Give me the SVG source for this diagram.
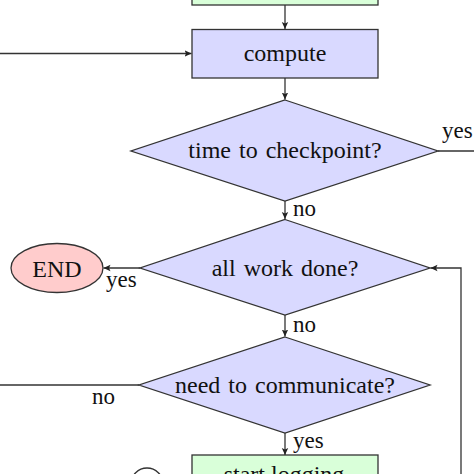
<svg xmlns="http://www.w3.org/2000/svg" width="474" height="474" viewBox="0 0 474 474">
<defs>
<marker id="ah" markerWidth="8" markerHeight="8" refX="7" refY="4" orient="auto" markerUnits="userSpaceOnUse">
<path d="M0,0.8 L7,4 L0,7.2 L1.5,4 Z" fill="#222"/>
</marker>
</defs>
<style>
.box{stroke:#333;stroke-width:1.3}
.blue{fill:#d9d9ff}
.green{fill:#d9ffd9}
.red{fill:#ffcccc}
.t{font-family:"Liberation Serif","Times New Roman",serif;font-size:24px;fill:#111;text-anchor:middle}
.l{font-family:"Liberation Serif","Times New Roman",serif;font-size:23px;fill:#111}
.c{fill:none;stroke:#333;stroke-width:1.3}
</style>
<rect width="474" height="474" fill="#fff"/>
<g id="connectors">
<line class="c" x1="285" y1="5" x2="285" y2="29" marker-end="url(#ah)"/>
<line class="c" x1="0" y1="53.5" x2="191.5" y2="53.5" marker-end="url(#ah)"/>
<line class="c" x1="285" y1="78" x2="285" y2="99.5" marker-end="url(#ah)"/>
<line class="c" x1="438" y1="151" x2="474" y2="151"/>
<line class="c" x1="285" y1="201" x2="285" y2="219" marker-end="url(#ah)"/>
<line class="c" x1="140" y1="268" x2="103.5" y2="268" marker-end="url(#ah)"/>
<polyline class="c" points="461,474 461,268 430.5,268" marker-end="url(#ah)"/>
<line class="c" x1="285" y1="315" x2="285" y2="336.5" marker-end="url(#ah)"/>
<line class="c" x1="139" y1="385" x2="0" y2="385"/>
<line class="c" x1="285" y1="433" x2="285" y2="455" marker-end="url(#ah)"/>
<text class="l" x="442" y="138">yes</text>
<text class="l" x="293" y="216">no</text>
<text class="l" x="106" y="287">yes</text>
<text class="l" x="293" y="332">no</text>
<text class="l" x="92" y="404">no</text>
<text class="l" x="293" y="448">yes</text>
</g>
<g id="top-box">
<rect class="box green" x="192" y="-40" width="186" height="45"/>
</g>
<g id="compute">
<rect class="box blue" x="192" y="29.5" width="186" height="48.5"/>
<text class="t" x="285" y="61">compute</text>
</g>
<g id="time-to-checkpoint">
<polygon class="box blue" points="285,100 438,151 285,201 131,151"/>
<text class="t" x="285" y="158" word-spacing="2">time to checkpoint?</text>
</g>
<g id="all-work-done">
<polygon class="box blue" points="285,219.5 430,268 285,315 140,268"/>
<text class="t" x="285" y="276" word-spacing="2">all work done?</text>
</g>
<g id="end">
<ellipse class="box red" cx="57" cy="268" rx="46" ry="24.5"/>
<text class="t" x="57" y="277">END</text>
</g>
<g id="need-to-communicate">
<polygon class="box blue" points="285,337 430,385 285,433 139,385"/>
<text class="t" x="285" y="393" word-spacing="2">need to communicate?</text>
</g>
<g id="start-logging">
<rect class="box green" x="192" y="455" width="186" height="50"/>
<text class="t" x="284" y="482">start logging</text>
</g>
<g id="circle-node">
<circle class="box" cx="147" cy="484" r="16" fill="#fff"/>
</g>
</svg>
